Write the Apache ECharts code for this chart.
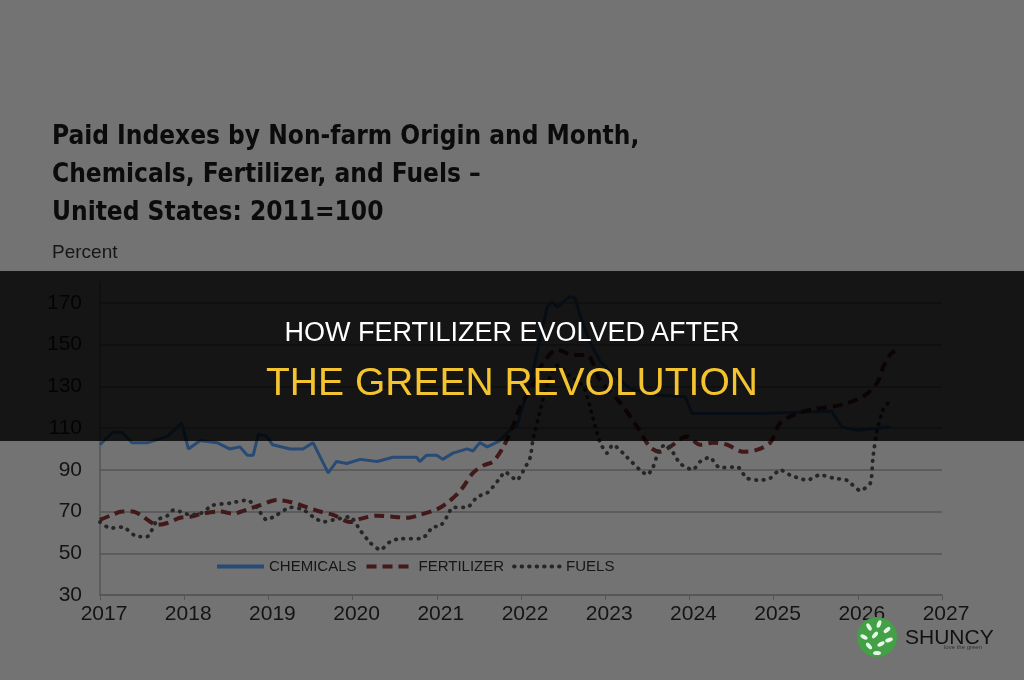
<!DOCTYPE html>
<html>
<head>
<meta charset="utf-8">
<script src="https://cdn.jsdelivr.net/npm/echarts@6/dist/echarts.min.js"></script>
<style>
  html, body { margin: 0; padding: 0; background: #737373; }
  #chart { position: absolute; left: 0; top: 0; width: 1024px; height: 680px; }
  .banner { position: absolute; left: 0; top: 271px; width: 1024px; height: 170px; background: rgba(0, 0, 0, 0.82); }
  .banner div { position: absolute; left: 0; width: 100%; text-align: center; font-family: 'Liberation Sans', Arial, sans-serif; }
  .banner .l1 { top: 48px; font-size: 27px; line-height: 27px; color: #ffffff; }
  .banner .l2 { top: 91px; font-size: 39px; line-height: 39px; color: #f4c430; }
  .logo { position: absolute; left: 855px; top: 615px; width: 150px; height: 45px; }
  .logo .name { position: absolute; left: 50px; top: 11px; font: 21px 'Liberation Sans', Arial, sans-serif; color: #111; line-height: 21px; }
  .logo .tag { position: absolute; left: 89px; top: 29px; font: 6px 'Liberation Sans', Arial, sans-serif; color: #333; }
</style>
</head>
<body>
<div id="chart"></div>
<div class="banner">
  <div class="l1">HOW FERTILIZER EVOLVED AFTER</div>
  <div class="l2">THE GREEN REVOLUTION</div>
</div>
<div class="logo">
  <svg width="44" height="44" viewBox="0 0 44 44" style="position:absolute;left:0;top:0">
    <circle cx="22" cy="22" r="20" fill="#43a047"/>
    <ellipse cx="14" cy="12" rx="2" ry="4" fill="#e8f5e9" transform="rotate(-30 14 12)"/>
    <ellipse cx="24" cy="9" rx="2" ry="4" fill="#e8f5e9" transform="rotate(20 24 9)"/>
    <ellipse cx="32" cy="15" rx="2" ry="4" fill="#e8f5e9" transform="rotate(50 32 15)"/>
    <ellipse cx="9" cy="22" rx="2" ry="4" fill="#e8f5e9" transform="rotate(-60 9 22)"/>
    <ellipse cx="20" cy="20" rx="2" ry="4" fill="#e8f5e9" transform="rotate(40 20 20)"/>
    <ellipse cx="34" cy="25" rx="2" ry="4" fill="#e8f5e9" transform="rotate(70 34 25)"/>
    <ellipse cx="14" cy="31" rx="2" ry="4" fill="#e8f5e9" transform="rotate(-40 14 31)"/>
    <ellipse cx="26" cy="29" rx="2" ry="4" fill="#e8f5e9" transform="rotate(60 26 29)"/>
    <ellipse cx="22" cy="38" rx="4" ry="2" fill="#e8f5e9"/>
  </svg>
  <div class="name">SHUNCY</div>
  <div class="tag">love the green</div>
</div>
<script>
// [year, index] pairs, monthly-ish readings
const chemicals = [
  [2017.00, 102], [2017.15, 108], [2017.26, 108], [2017.38, 103], [2017.57, 103],
  [2017.80, 106], [2017.97, 112.5], [2018.05, 100], [2018.19, 104], [2018.39, 103],
  [2018.54, 100], [2018.66, 101], [2018.75, 97], [2018.82, 97], [2018.88, 107],
  [2018.98, 106], [2019.05, 102], [2019.26, 100], [2019.41, 100], [2019.53, 103],
  [2019.71, 88.5], [2019.81, 94], [2019.93, 93], [2020.09, 95], [2020.29, 94],
  [2020.48, 96], [2020.76, 96], [2020.80, 94], [2020.88, 97], [2021.00, 97],
  [2021.07, 95], [2021.19, 98], [2021.36, 100], [2021.43, 99], [2021.51, 103],
  [2021.60, 101], [2021.75, 104], [2021.87, 109], [2021.95, 111], [2022.13, 135],
  [2022.31, 168], [2022.37, 170.5], [2022.43, 168], [2022.58, 173], [2022.64, 172.5],
  [2022.70, 164], [2022.82, 151], [2022.94, 142], [2023.12, 135], [2023.29, 129],
  [2023.53, 126], [2023.95, 125], [2024.03, 117], [2024.84, 117], [2025.69, 118],
  [2025.81, 110.5], [2025.99, 109], [2026.38, 110.5]
];
const fertilizer = [
  [2017.00, 66], [2017.12, 68], [2017.27, 70], [2017.39, 70], [2017.51, 67.5],
  [2017.68, 63.6], [2017.80, 64.5], [2017.95, 67], [2018.07, 67.5], [2018.22, 69],
  [2018.43, 70], [2018.58, 69], [2018.75, 71], [2018.90, 73], [2019.10, 75.5],
  [2019.26, 74.6], [2019.46, 72], [2019.61, 70], [2019.77, 68.4], [2019.97, 65],
  [2020.09, 66.5], [2020.29, 68], [2020.48, 67.5], [2020.65, 67], [2020.80, 68.4],
  [2021.00, 71], [2021.12, 74], [2021.28, 80], [2021.43, 88.5], [2021.55, 92],
  [2021.67, 94], [2021.79, 101], [2021.90, 110.6], [2022.01, 122], [2022.11, 128],
  [2022.26, 141], [2022.43, 147.5], [2022.62, 145], [2022.78, 145], [2022.94, 133],
  [2023.18, 122], [2023.38, 110.6], [2023.53, 101], [2023.65, 98.6], [2023.77, 101],
  [2023.97, 106], [2024.13, 102], [2024.28, 103], [2024.45, 102], [2024.64, 98.6],
  [2024.80, 99.5], [2024.96, 103], [2025.08, 112.5], [2025.28, 117], [2025.47, 119],
  [2025.79, 121], [2026.06, 125], [2026.23, 131.7], [2026.30, 139], [2026.38, 145],
  [2026.44, 147]
];
const fuels = [
  [2017.00, 65], [2017.12, 62], [2017.27, 62.6], [2017.44, 58], [2017.56, 58],
  [2017.68, 66], [2017.80, 68], [2017.87, 70.7], [2017.95, 70], [2018.07, 68.4],
  [2018.19, 69], [2018.34, 73], [2018.54, 74], [2018.75, 75.5], [2018.86, 72],
  [2018.98, 66], [2019.10, 68.4], [2019.26, 72], [2019.41, 71], [2019.53, 67.5],
  [2019.65, 65], [2019.77, 66], [2019.97, 67.5], [2020.09, 61], [2020.21, 55],
  [2020.33, 51.6], [2020.44, 55.4], [2020.56, 57], [2020.80, 57], [2020.88, 58.8],
  [2020.95, 62.6], [2021.04, 63], [2021.12, 67.5], [2021.19, 72], [2021.36, 72],
  [2021.48, 77], [2021.60, 79], [2021.63, 80], [2021.75, 86], [2021.81, 89],
  [2021.95, 85], [2022.02, 89], [2022.11, 96], [2022.14, 104], [2022.23, 118.7],
  [2022.32, 132], [2022.43, 140], [2022.58, 135], [2022.74, 130], [2022.82, 120],
  [2022.90, 108], [2022.94, 103], [2023.02, 98], [2023.09, 102], [2023.26, 96],
  [2023.41, 90], [2023.50, 87.6], [2023.57, 91.4], [2023.65, 100.5], [2023.73, 102],
  [2023.89, 93], [2024.04, 90], [2024.13, 94], [2024.24, 96], [2024.36, 91],
  [2024.57, 91.4], [2024.68, 86], [2024.84, 85], [2024.96, 86], [2025.08, 90],
  [2025.19, 87.6], [2025.40, 85], [2025.55, 87.6], [2025.71, 86], [2025.87, 85],
  [2026.03, 80], [2026.15, 83.7], [2026.18, 96], [2026.23, 109], [2026.30, 118.7],
  [2026.38, 123]
];
const seriesNames = ['CHEMICALS', 'FERTILIZER', 'FUELS'];

const chart = echarts.init(document.getElementById('chart'));
const axisFont = "'Liberation Sans', Arial, sans-serif";

chart.setOption({
  backgroundColor: '#737373',
  animation: false,
  title: [
    {
      text: 'Paid Indexes by Non-farm Origin and Month,\nChemicals, Fertilizer, and Fuels –\nUnited States: 2011=100',
      left: 52,
      top: 118,
      padding: 0,
      textStyle: {
        fontSize: 26,
        fontWeight: 'bold',
        fontFamily: "'Liberation Sans Narrow', 'DejaVu Sans Condensed', sans-serif",
        lineHeight: 38,
        color: '#0b0b0b'
      }
    },
    {
      text: 'Percent',
      left: 52,
      top: 243,
      padding: 0,
      textStyle: { fontSize: 19, fontWeight: 'normal', fontFamily: axisFont, color: '#161616' }
    }
  ],
  legend: {
    left: 215,
    top: 559,
    padding: 0,
    itemWidth: 47,
    itemHeight: 14,
    itemGap: 8,
    selectedMode: false,
    itemStyle: { opacity: 0 },
    lineStyle: { width: 4 },
    textStyle: { fontSize: 15, fontFamily: axisFont, color: '#161616' },
    data: seriesNames
  },
  grid: { left: 100, right: 82, top: 282, bottom: 85 },
  xAxis: {
    type: 'value',
    min: 2017,
    max: 2027,
    interval: 1,
    axisLine: { show: true, lineStyle: { color: '#555555', width: 1.5 } },
    axisTick: { show: true, length: 5, lineStyle: { color: '#555555' } },
    splitLine: { show: false },
    axisLabel: {
      fontSize: 21,
      fontFamily: axisFont,
      color: '#141414',
      margin: 9,
      padding: [0, 0, 0, 8],
      formatter: (v) => String(v)
    }
  },
  yAxis: {
    type: 'value',
    min: 30,
    max: 180,
    interval: 20,
    axisLine: { show: true, lineStyle: { color: '#555555', width: 1.5 } },
    axisTick: { show: false },
    splitLine: { show: true, showMaxLine: false, lineStyle: { color: '#555555', width: 1.5 } },
    axisLabel: {
      fontSize: 21,
      fontFamily: axisFont,
      color: '#141414',
      margin: 18,
      showMaxLabel: false
    }
  },
  series: [
    {
      name: 'CHEMICALS',
      type: 'line',
      data: chemicals,
      showSymbol: false,
      symbol: 'none',
      lineStyle: { color: '#274b74', width: 3 },
      itemStyle: { color: '#274b74' }
    },
    {
      name: 'FERTILIZER',
      type: 'line',
      data: fertilizer,
      showSymbol: false,
      symbol: 'none',
      smooth: 0.3,
      lineStyle: { color: '#421818', width: 4, type: [10, 6] },
      itemStyle: { color: '#421818' }
    },
    {
      name: 'FUELS',
      type: 'line',
      data: fuels,
      showSymbol: false,
      symbol: 'none',
      smooth: 0.2,
      lineStyle: { color: '#262626', width: 3.8, type: [0.5, 7], cap: 'round' },
      itemStyle: { color: '#262626' }
    }
  ]
});
</script>
</body>
</html>
